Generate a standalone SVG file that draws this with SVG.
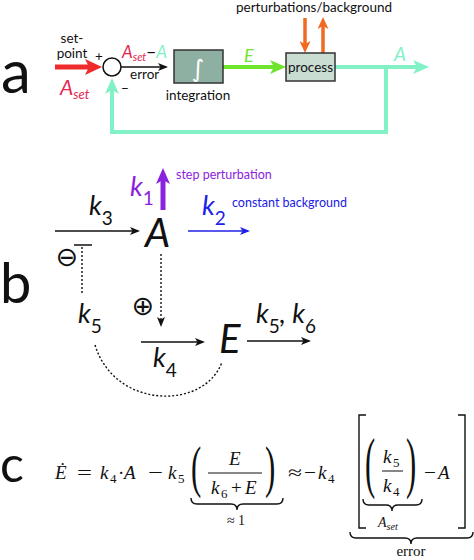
<svg xmlns="http://www.w3.org/2000/svg" width="474" height="560" viewBox="0 0 474 560">
<style>
.sans{font-family:Lato,"Open Sans","Liberation Sans",sans-serif}
.lbl{font-family:Lato,"Open Sans","Liberation Sans",sans-serif;font-size:13.5px;fill:#111}
.it{font-style:italic}
.kk{font-family:Lato,"Open Sans","Liberation Sans",sans-serif;font-style:italic;font-size:27px}
.sb{font-style:normal;font-size:19px}
.m{font-family:"Liberation Serif","Times New Roman",serif;font-size:19px;fill:#111}
.ms{font-size:13px}
.thin{fill:none;stroke:#111;stroke-width:1.5}
.dot{fill:none;stroke:#111;stroke-width:1.4;stroke-dasharray:2 2}
.brace{fill:none;stroke:#111;stroke-width:1.4}
.sym{font-family:"DejaVu Sans",sans-serif;font-size:27px;fill:#111}
</style>
<defs>
<marker id="mRed" markerUnits="userSpaceOnUse" markerWidth="18" markerHeight="16" refX="7" refY="8" orient="auto"><path d="M0,0 L17,8 L0,16 L4,8 Z" fill="#ee2a2a"/></marker>
<marker id="mGreen" markerUnits="userSpaceOnUse" markerWidth="17" markerHeight="14" refX="6" refY="7" orient="auto"><path d="M0,0 L16,7 L0,14 L4,7 Z" fill="#6ee42c"/></marker>
<marker id="mCyan" markerUnits="userSpaceOnUse" markerWidth="17" markerHeight="14" refX="6" refY="7" orient="auto"><path d="M0,0 L16,7 L0,14 L4,7 Z" fill="#82f2c6"/></marker>
<marker id="mOrange" markerUnits="userSpaceOnUse" markerWidth="13" markerHeight="11" refX="4" refY="5.5" orient="auto"><path d="M0,0 L12,5.5 L0,11 L3,5.5 Z" fill="#f26a22"/></marker>
<marker id="mPurple" markerUnits="userSpaceOnUse" markerWidth="17" markerHeight="14" refX="6" refY="7" orient="auto"><path d="M0,0 L16,7 L0,14 L4,7 Z" fill="#8a22dd"/></marker>
<marker id="mBlack" markerUnits="userSpaceOnUse" markerWidth="11" markerHeight="9" refX="8" refY="4" orient="auto"><path d="M0,0 L10,4 L0,8 L2.5,4 Z" fill="#111"/></marker>
<marker id="mBlue" markerUnits="userSpaceOnUse" markerWidth="11" markerHeight="9" refX="8" refY="4" orient="auto"><path d="M0,0 L10,4 L0,8 L2.5,4 Z" fill="#2020e6"/></marker>
</defs>
<rect width="474" height="560" fill="#fff"/>

<!-- panel labels -->
<g id="labels" class="sans" fill="#111">
<text x="1" y="93" font-size="60">a</text>
<text x="0" y="303" font-size="56">b</text>
<text x="0" y="482" font-size="50">c</text>
</g>

<!-- panel a connectors -->
<g id="connectors-a">
<line x1="55" y1="67" x2="92" y2="67" stroke="#ee2a2a" stroke-width="5" marker-end="url(#mRed)"/>
<line x1="121" y1="67" x2="166" y2="67" stroke="#111" stroke-width="1.5" marker-end="url(#mBlack)"/>
<line x1="223" y1="67" x2="276" y2="67" stroke="#6ee42c" stroke-width="4" marker-end="url(#mGreen)"/>
<line x1="335" y1="67" x2="419" y2="67" stroke="#82f2c6" stroke-width="4" marker-end="url(#mCyan)"/>
<path d="M386,67 V132 H112 V88" fill="none" stroke="#82f2c6" stroke-width="4" marker-end="url(#mCyan)"/>
<line x1="305" y1="18" x2="305" y2="45" stroke="#f26a22" stroke-width="3.5" marker-end="url(#mOrange)"/>
<line x1="323" y1="53" x2="323" y2="25" stroke="#f26a22" stroke-width="3.5" marker-end="url(#mOrange)"/>
</g>

<g id="sum">
<circle cx="112" cy="67" r="9" fill="#fff" stroke="#111" stroke-width="1.5"/>
<text x="99" y="61" class="lbl" font-size="16" text-anchor="middle">+</text>
<text x="125" y="93" class="lbl" font-size="16" text-anchor="middle">−</text>
</g>

<g id="setpoint">
<text x="72" y="43" class="lbl" font-size="12" text-anchor="middle">set-</text>
<text x="72" y="58" class="lbl" font-size="12" text-anchor="middle">point</text>
<text x="60" y="95" class="sans it" font-size="21" fill="#e52550">A<tspan font-size="13" dy="4">set</tspan></text>
</g>

<g id="error-label">
<text x="122" y="58" class="sans it" font-size="17" fill="#e52550">A<tspan font-size="11" dy="3">set</tspan><tspan dy="-3" fill="#111" font-style="normal">−</tspan><tspan fill="#82f2c6">A</tspan></text>
<text x="130" y="79" class="lbl">error</text>
</g>

<g id="integration">
<rect x="174" y="50" width="49" height="33" fill="#8db0a2" stroke="#333" stroke-width="1.5"/>
<text x="198" y="77" font-family="DejaVu Sans,sans-serif" font-size="24" fill="#fff" text-anchor="middle">∫</text>
<text x="198" y="100" class="lbl" text-anchor="middle">integration</text>
</g>

<text id="E-label" x="244" y="62" class="sans it" font-size="18" fill="#6ee42c">E</text>

<g id="process">
<rect x="286" y="53" width="49" height="28" fill="#c9ddd3" stroke="#333" stroke-width="1.5"/>
<text x="310.5" y="72" class="lbl" text-anchor="middle">process</text>
</g>

<text id="perturb-label" x="236" y="12" class="lbl">perturbations/background</text>
<text id="A-out" x="394" y="61" class="sans it" font-size="19" fill="#82f2c6">A</text>

<!-- panel b -->
<g id="connectors-b">
<line x1="55" y1="231" x2="138" y2="231" class="thin" marker-end="url(#mBlack)"/>
<line x1="188" y1="231" x2="248" y2="231" stroke="#2020e6" stroke-width="1.5" marker-end="url(#mBlue)"/>
<line x1="163" y1="210" x2="163" y2="178" stroke="#8a22dd" stroke-width="5" marker-end="url(#mPurple)"/>
<line x1="161" y1="254" x2="161" y2="325" class="dot" marker-end="url(#mBlack)"/>
<line x1="82" y1="247" x2="82" y2="295" class="dot"/>
<line x1="74" y1="245" x2="92" y2="245" class="thin"/>
<line x1="141" y1="342" x2="203" y2="342" class="thin" marker-end="url(#mBlack)"/>
<line x1="247" y1="341" x2="309" y2="341" class="thin" marker-end="url(#mBlack)"/>
<path d="M95,345 C115,410 205,410 222,362" class="dot"/>
</g>

<g id="node-A">
<text x="145" y="247" class="sans it" font-size="40" fill="#111">A</text>
</g>
<g id="node-E">
<text x="219" y="353" class="sans it" font-size="40" fill="#111">E</text>
</g>

<g id="rate-labels">
<text x="89" y="215" class="kk" fill="#111">k<tspan class="sb" dy="10">3</tspan></text>
<text x="130" y="196" class="kk" fill="#8a22dd">k<tspan class="sb" dy="9">1</tspan></text>
<text x="176" y="179" class="sans" font-size="12.5" fill="#8a22dd">step perturbation</text>
<text x="202" y="215" class="kk" fill="#2020e6">k<tspan class="sb" dy="10">2</tspan></text>
<text x="232" y="207" class="sans" font-size="12.5" fill="#2020e6">constant background</text>
<text x="78" y="323" class="kk" fill="#111">k<tspan class="sb" dy="10">5</tspan></text>
<text x="153" y="367" class="kk" fill="#111">k<tspan class="sb" dy="10">4</tspan></text>
<text x="256" y="323" class="kk" fill="#111">k<tspan class="sb" dy="10">5</tspan><tspan dy="-10">, k</tspan><tspan class="sb" dy="10">6</tspan></text>
<text x="67" y="266" class="sym" text-anchor="middle">⊖</text>
<text x="143" y="315" class="sym" text-anchor="middle">⊕</text>
</g>

<!-- panel c -->
<g id="equation" class="m">
<text x="55" y="479" class="it">Ė</text>
<text x="77" y="479" textLength="15" lengthAdjust="spacingAndGlyphs">=</text>
<text x="100" y="479" class="it">k</text><text x="110" y="483" class="ms">4</text>
<text x="118" y="479">·</text>
<text x="124" y="479" class="it">A</text>
<text x="148" y="479" textLength="15" lengthAdjust="spacingAndGlyphs">−</text>
<text x="168" y="479" class="it">k</text><text x="178" y="483" class="ms">5</text>
<text transform="translate(191,486) scale(0.55,1)" font-size="56">(</text>
<text x="229" y="465" class="it">E</text>
<line x1="208" y1="473" x2="262" y2="473" stroke="#111" stroke-width="1"/>
<text x="211" y="494" class="it">k</text><text x="221" y="498" class="ms">6</text>
<text x="231" y="494">+</text><text x="245" y="494" class="it">E</text>
<text transform="translate(265,486) scale(0.55,1)" font-size="56">)</text>
<path class="brace" d="M191,498 Q191,504 197,504 H231 Q237,504 237,510 Q237,504 243,504 H277 Q283,504 283,498"/>
<text x="236" y="525" font-size="14" text-anchor="middle">≈ 1</text>
<text x="288" y="479" textLength="14" lengthAdjust="spacingAndGlyphs">≈</text>
<text x="304" y="479" textLength="12" lengthAdjust="spacingAndGlyphs">−</text>
<text x="318" y="479" class="it">k</text><text x="328" y="483" class="ms">4</text>
<path class="brace" d="M366,415 H359 V528 H366"/>
<text transform="translate(365,485) scale(0.45,1)" font-size="68">(</text>
<text x="383" y="463" class="it">k</text><text x="393" y="467" class="ms">5</text>
<line x1="382" y1="471" x2="403" y2="471" stroke="#111" stroke-width="1"/>
<text x="383" y="492" class="it">k</text><text x="393" y="496" class="ms">4</text>
<text transform="translate(406,485) scale(0.45,1)" font-size="68">)</text>
<text x="424" y="479" textLength="12" lengthAdjust="spacingAndGlyphs">−</text>
<text x="438" y="479" class="it">A</text>
<path class="brace" d="M458,415 H465 V528 H458"/>
<path class="brace" d="M363,499 Q363,505 369,505 H386 Q392,505 392,511 Q392,505 398,505 H416 Q422,505 422,499"/>
<text x="378" y="527" class="it" font-size="14">A<tspan font-size="10" dy="3">set</tspan></text>
<path class="brace" d="M350,532 Q350,538 356,538 H405 Q411,538 411,544 Q411,538 417,538 H467 Q473,538 473,532"/>
<text x="411" y="556" font-size="15" text-anchor="middle">error</text>
</g>
</svg>
